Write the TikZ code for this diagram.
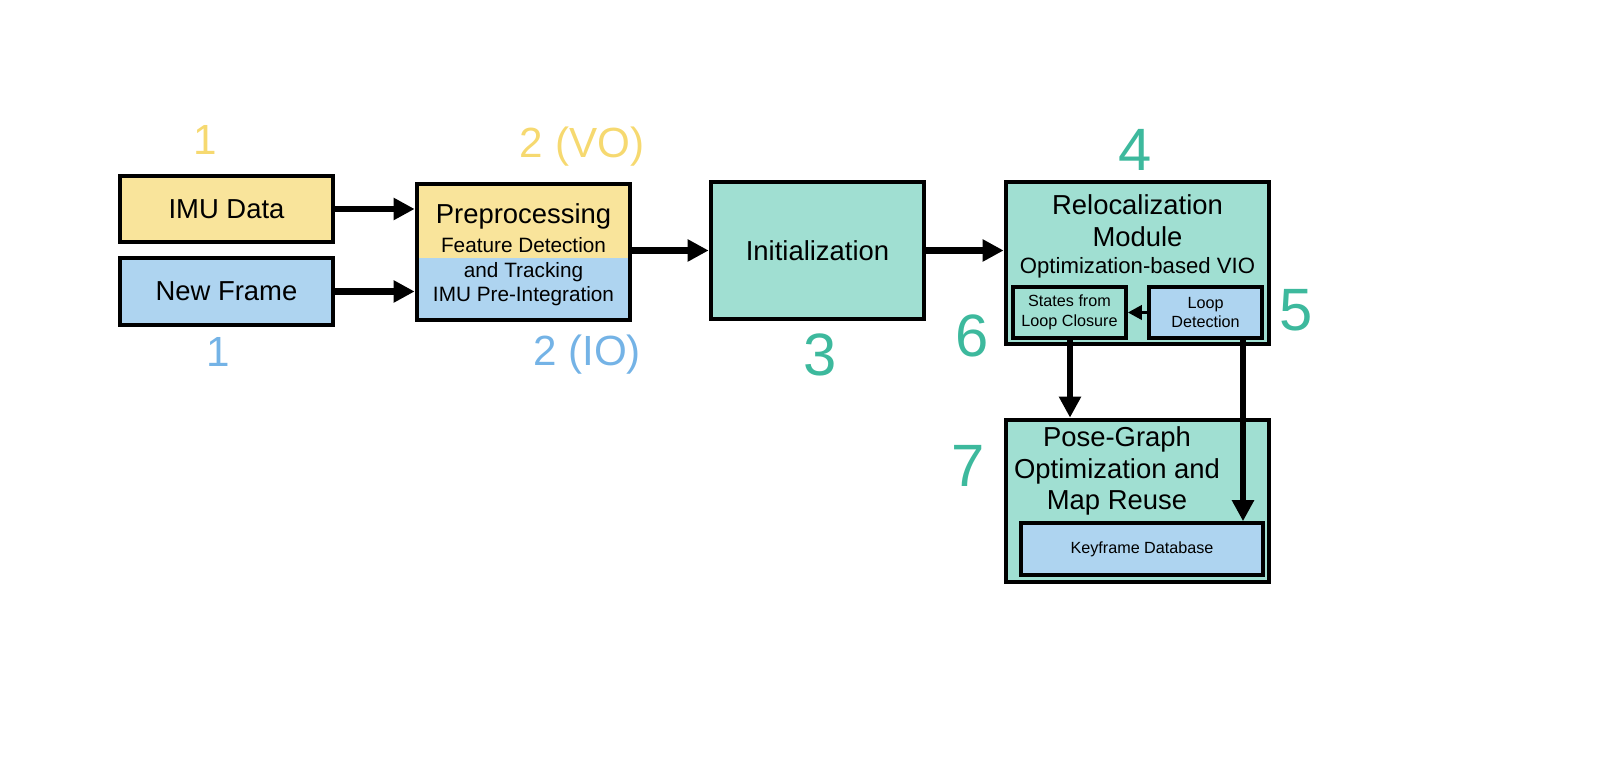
\documentclass[tikz,border=0pt]{standalone}
\usepackage{fontspec}
\setmainfont{Liberation Sans}
\usetikzlibrary{arrows.meta}
\definecolor{cy}{HTML}{F9E49B}
\definecolor{cb}{HTML}{AED4F0}
\definecolor{ct}{HTML}{A0DFD2}
\definecolor{hy}{HTML}{F6D970}
\definecolor{hb}{HTML}{74B3E6}
\definecolor{ht}{HTML}{3DB99D}
\begin{document}
\begin{tikzpicture}[x=0.01cm,y=-0.01cm,
  box/.style={draw=black,line width=1.3pt,inner sep=0pt},
  arr/.style={-{Triangle[length=6pt,width=6pt]},line width=1.8pt},
  big/.style={font=\fontsize{7.8}{9}\selectfont,align=center},
  mid/.style={font=\fontsize{5.9}{7}\selectfont,align=center},
  small/.style={font=\fontsize{4.6}{5.6}\selectfont,align=center},
  hand/.style={font=\fontsize{12}{13}\selectfont}]
\useasboundingbox (0,0) rectangle (1600,771);
\node[box,fill=cy,minimum width=2.13cm,minimum height=0.66cm,big] (imu) at (226.5,209) {IMU Data};
\node[box,fill=cb,minimum width=2.13cm,minimum height=0.67cm,big] (frame) at (226.5,291.5) {New Frame};
\fill[cy] (417,184) rectangle (630,258);
\fill[cb] (417,258) rectangle (630,320);
\node[box,minimum width=2.13cm,minimum height=1.36cm] (pre) at (523.5,252) {};
\node[big] (pret) at (523.5,216) {Preprocessing};
\node[mid] (pres) at (523.5,272) {Feature Detection\\and Tracking\\IMU Pre-Integration};
\node[box,fill=ct,minimum width=2.13cm,minimum height=1.37cm,big] (init) at (817.5,250.5) {Initialization};
\node[box,fill=ct,minimum width=2.63cm,minimum height=1.62cm] (rel) at (1137.5,263) {};
\node[big] (relt) at (1137.5,221) {Relocalization\\Module};
\node[mid,font=\fontsize{6.3}{7.5}\selectfont] (relv) at (1137.5,268) {Optimization-based VIO};
\node[box,line width=1pt,fill=ct,minimum width=1.13cm,minimum height=0.51cm,small] (sta) at (1069.5,312.5) {States from\\Loop Closure};
\node[box,line width=1pt,fill=cb,minimum width=1.13cm,minimum height=0.51cm,small] (loop) at (1205.5,312.5) {Loop\\Detection};
\node[box,fill=ct,minimum width=2.63cm,minimum height=1.62cm] (pg) at (1137.5,501) {};
\node[big] (pgt) at (1117,471) {Pose-Graph\\Optimization and\\Map Reuse};
\node[box,line width=1pt,fill=cb,minimum width=2.42cm,minimum height=0.52cm,small] (kf) at (1142,549) {Keyframe Database};
\draw[arr] (imu.east) -- (pre.west |- imu.east);
\draw[arr] (frame.east) -- (pre.west |- frame.east);
\draw[arr] (pre.east |- init.west) -- (init.west);
\draw[arr] (init.east) -- (rel.west |- init.east);
\draw[-{Triangle[length=4pt,width=4pt]},line width=1pt] (loop.west) -- (sta.east);
\draw[arr] (sta.south -| 1070,0) -- (pg.north -| 1070,0);
\draw[arr] (loop.south -| 1243,0) -- (kf.north -| 1243,0);
\node[hand,text=hy] (n1a) at (205,140) {1};
\node[hand,text=hb] (n1b) at (218,352) {1};
\node[hand,text=hy] (n2a) at (582,147) {2 (VO)};
\node[hand,text=hb] (n2b) at (587,355) {2 (IO)};
\node[hand,text=ht,font=\fontsize{17}{18}\selectfont] (n3) at (820,355) {3};
\node[hand,text=ht,font=\fontsize{17}{18}\selectfont] (n4) at (1135,150) {4};
\node[hand,text=ht,font=\fontsize{17}{18}\selectfont] (n5) at (1296,310) {5};
\node[hand,text=ht,font=\fontsize{17}{18}\selectfont] (n6) at (972,336) {6};
\node[hand,text=ht,font=\fontsize{17}{18}\selectfont] (n7) at (968,466) {7};
\end{tikzpicture}
\end{document}
